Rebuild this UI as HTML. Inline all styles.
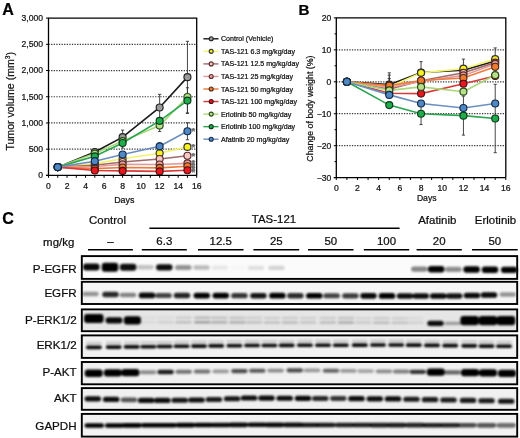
<!DOCTYPE html><html><head><meta charset="utf-8"><style>html,body{margin:0;padding:0;background:#fff;}svg{display:block;}text{font-family:"Liberation Sans", Arial, sans-serif;stroke:#000;stroke-width:0.22px;}</style></head><body>
<svg width="520" height="438" viewBox="0 0 520 438">
<defs><filter id="bl" x="-30%" y="-80%" width="160%" height="260%"><feGaussianBlur stdDeviation="0.8"/></filter><filter id="bl2" x="-30%" y="-80%" width="160%" height="260%"><feGaussianBlur stdDeviation="0.7"/></filter></defs>
<rect width="520" height="438" fill="#fff"/>
<line x1="48.5" y1="149.18" x2="196.7" y2="149.18" stroke="#3a3a3a" stroke-width="1.2" stroke-dasharray="1.3,1.3"/>
<line x1="48.5" y1="122.97" x2="196.7" y2="122.97" stroke="#3a3a3a" stroke-width="1.2" stroke-dasharray="1.3,1.3"/>
<line x1="48.5" y1="96.75" x2="196.7" y2="96.75" stroke="#3a3a3a" stroke-width="1.2" stroke-dasharray="1.3,1.3"/>
<line x1="48.5" y1="70.53" x2="196.7" y2="70.53" stroke="#3a3a3a" stroke-width="1.2" stroke-dasharray="1.3,1.3"/>
<line x1="48.5" y1="44.32" x2="196.7" y2="44.32" stroke="#3a3a3a" stroke-width="1.2" stroke-dasharray="1.3,1.3"/>
<polyline points="57.76,167.12 94.81,151.96 122.60,137.18 159.65,107.45 187.44,77.14" fill="none" stroke="#1a1a1a" stroke-width="1.6"/>
<polyline points="57.76,167.12 94.81,163.60 122.60,158.78 159.65,153.27 187.44,146.88" fill="none" stroke="#f4f36a" stroke-width="1.6"/>
<polyline points="57.76,167.12 94.81,165.18 122.60,161.98 159.65,158.99 187.44,155.79" fill="none" stroke="#a06a6a" stroke-width="1.6"/>
<polyline points="57.76,167.12 94.81,166.49 122.60,164.39 159.65,164.49 187.44,163.39" fill="none" stroke="#e39a9a" stroke-width="1.6"/>
<polyline points="57.76,167.12 94.81,168.58 122.60,167.48 159.65,167.90 187.44,166.28" fill="none" stroke="#ef7a3a" stroke-width="1.6"/>
<polyline points="57.76,167.12 94.81,170.47 122.60,170.89 159.65,171.42 187.44,170.21" fill="none" stroke="#d83a3a" stroke-width="1.6"/>
<polyline points="57.76,167.12 94.81,153.59 122.60,141.06 159.65,125.59 187.44,96.96" fill="none" stroke="#a8d878" stroke-width="1.6"/>
<polyline points="57.76,167.12 94.81,156.31 122.60,143.00 159.65,120.87 187.44,100.58" fill="none" stroke="#2aa44e" stroke-width="1.6"/>
<polyline points="57.76,167.12 94.81,161.19 122.60,154.48 159.65,146.30 187.44,131.25" fill="none" stroke="#6a8fbf" stroke-width="1.6"/>
<line x1="94.81" y1="149.29" x2="94.81" y2="154.64" stroke="#333" stroke-width="0.9"/>
<line x1="93.21" y1="149.29" x2="96.41" y2="149.29" stroke="#333" stroke-width="0.9"/>
<line x1="93.21" y1="154.64" x2="96.41" y2="154.64" stroke="#333" stroke-width="0.9"/>
<line x1="122.60" y1="130.15" x2="122.60" y2="144.20" stroke="#333" stroke-width="0.9"/>
<line x1="121.00" y1="130.15" x2="124.20" y2="130.15" stroke="#333" stroke-width="0.9"/>
<line x1="121.00" y1="144.20" x2="124.20" y2="144.20" stroke="#333" stroke-width="0.9"/>
<line x1="159.65" y1="94.34" x2="159.65" y2="120.55" stroke="#333" stroke-width="0.9"/>
<line x1="158.05" y1="94.34" x2="161.25" y2="94.34" stroke="#333" stroke-width="0.9"/>
<line x1="158.05" y1="120.55" x2="161.25" y2="120.55" stroke="#333" stroke-width="0.9"/>
<line x1="187.44" y1="41.33" x2="187.44" y2="112.95" stroke="#333" stroke-width="0.9"/>
<line x1="185.84" y1="41.33" x2="189.04" y2="41.33" stroke="#333" stroke-width="0.9"/>
<line x1="185.84" y1="112.95" x2="189.04" y2="112.95" stroke="#333" stroke-width="0.9"/>
<line x1="122.60" y1="137.91" x2="122.60" y2="148.08" stroke="#333" stroke-width="0.9"/>
<line x1="121.00" y1="137.91" x2="124.20" y2="137.91" stroke="#333" stroke-width="0.9"/>
<line x1="121.00" y1="148.08" x2="124.20" y2="148.08" stroke="#333" stroke-width="0.9"/>
<line x1="159.65" y1="119.61" x2="159.65" y2="131.57" stroke="#333" stroke-width="0.9"/>
<line x1="158.05" y1="119.61" x2="161.25" y2="119.61" stroke="#333" stroke-width="0.9"/>
<line x1="158.05" y1="131.57" x2="161.25" y2="131.57" stroke="#333" stroke-width="0.9"/>
<line x1="187.44" y1="87.78" x2="187.44" y2="113.37" stroke="#333" stroke-width="0.9"/>
<line x1="185.84" y1="87.78" x2="189.04" y2="87.78" stroke="#333" stroke-width="0.9"/>
<line x1="185.84" y1="113.37" x2="189.04" y2="113.37" stroke="#333" stroke-width="0.9"/>
<line x1="187.44" y1="122.76" x2="187.44" y2="139.75" stroke="#333" stroke-width="0.9"/>
<line x1="185.84" y1="122.76" x2="189.04" y2="122.76" stroke="#333" stroke-width="0.9"/>
<line x1="185.84" y1="139.75" x2="189.04" y2="139.75" stroke="#333" stroke-width="0.9"/>
<line x1="159.65" y1="142.79" x2="159.65" y2="149.81" stroke="#333" stroke-width="0.9"/>
<line x1="158.05" y1="142.79" x2="161.25" y2="142.79" stroke="#333" stroke-width="0.9"/>
<line x1="158.05" y1="149.81" x2="161.25" y2="149.81" stroke="#333" stroke-width="0.9"/>
<circle cx="57.76" cy="167.12" r="3.5" fill="#9a9a9a" stroke="#222" stroke-width="1.15"/>
<circle cx="94.81" cy="151.96" r="3.5" fill="#9a9a9a" stroke="#222" stroke-width="1.15"/>
<circle cx="122.60" cy="137.18" r="3.5" fill="#9a9a9a" stroke="#222" stroke-width="1.15"/>
<circle cx="159.65" cy="107.45" r="3.5" fill="#9a9a9a" stroke="#222" stroke-width="1.15"/>
<circle cx="187.44" cy="77.14" r="3.5" fill="#9a9a9a" stroke="#222" stroke-width="1.15"/>
<circle cx="57.76" cy="167.12" r="3.5" fill="#f6f21a" stroke="#333" stroke-width="1.15"/>
<circle cx="94.81" cy="163.60" r="3.5" fill="#f6f21a" stroke="#333" stroke-width="1.15"/>
<circle cx="122.60" cy="158.78" r="3.5" fill="#f6f21a" stroke="#333" stroke-width="1.15"/>
<circle cx="159.65" cy="153.27" r="3.5" fill="#f6f21a" stroke="#333" stroke-width="1.15"/>
<circle cx="187.44" cy="146.88" r="3.5" fill="#f6f21a" stroke="#333" stroke-width="1.15"/>
<circle cx="57.76" cy="167.12" r="3.5" fill="#f3c9c4" stroke="#5a2a2a" stroke-width="1.15"/>
<circle cx="94.81" cy="165.18" r="3.5" fill="#f3c9c4" stroke="#5a2a2a" stroke-width="1.15"/>
<circle cx="122.60" cy="161.98" r="3.5" fill="#f3c9c4" stroke="#5a2a2a" stroke-width="1.15"/>
<circle cx="159.65" cy="158.99" r="3.5" fill="#f3c9c4" stroke="#5a2a2a" stroke-width="1.15"/>
<circle cx="187.44" cy="155.79" r="3.5" fill="#f3c9c4" stroke="#5a2a2a" stroke-width="1.15"/>
<circle cx="57.76" cy="167.12" r="3.5" fill="#e7a0a0" stroke="#5a2a2a" stroke-width="1.15"/>
<circle cx="94.81" cy="166.49" r="3.5" fill="#e7a0a0" stroke="#5a2a2a" stroke-width="1.15"/>
<circle cx="122.60" cy="164.39" r="3.5" fill="#e7a0a0" stroke="#5a2a2a" stroke-width="1.15"/>
<circle cx="159.65" cy="164.49" r="3.5" fill="#e7a0a0" stroke="#5a2a2a" stroke-width="1.15"/>
<circle cx="187.44" cy="163.39" r="3.5" fill="#e7a0a0" stroke="#5a2a2a" stroke-width="1.15"/>
<circle cx="57.76" cy="167.12" r="3.5" fill="#f07a30" stroke="#4a2a1a" stroke-width="1.15"/>
<circle cx="94.81" cy="168.58" r="3.5" fill="#f07a30" stroke="#4a2a1a" stroke-width="1.15"/>
<circle cx="122.60" cy="167.48" r="3.5" fill="#f07a30" stroke="#4a2a1a" stroke-width="1.15"/>
<circle cx="159.65" cy="167.90" r="3.5" fill="#f07a30" stroke="#4a2a1a" stroke-width="1.15"/>
<circle cx="187.44" cy="166.28" r="3.5" fill="#f07a30" stroke="#4a2a1a" stroke-width="1.15"/>
<circle cx="57.76" cy="167.12" r="3.5" fill="#e8161e" stroke="#4a1010" stroke-width="1.15"/>
<circle cx="94.81" cy="170.47" r="3.5" fill="#e8161e" stroke="#4a1010" stroke-width="1.15"/>
<circle cx="122.60" cy="170.89" r="3.5" fill="#e8161e" stroke="#4a1010" stroke-width="1.15"/>
<circle cx="159.65" cy="171.42" r="3.5" fill="#e8161e" stroke="#4a1010" stroke-width="1.15"/>
<circle cx="187.44" cy="170.21" r="3.5" fill="#e8161e" stroke="#4a1010" stroke-width="1.15"/>
<circle cx="57.76" cy="167.12" r="3.5" fill="#b8e08a" stroke="#2a4a1a" stroke-width="1.15"/>
<circle cx="94.81" cy="153.59" r="3.5" fill="#b8e08a" stroke="#2a4a1a" stroke-width="1.15"/>
<circle cx="122.60" cy="141.06" r="3.5" fill="#b8e08a" stroke="#2a4a1a" stroke-width="1.15"/>
<circle cx="159.65" cy="125.59" r="3.5" fill="#b8e08a" stroke="#2a4a1a" stroke-width="1.15"/>
<circle cx="187.44" cy="96.96" r="3.5" fill="#b8e08a" stroke="#2a4a1a" stroke-width="1.15"/>
<circle cx="57.76" cy="167.12" r="3.5" fill="#1fad4c" stroke="#0d3a1a" stroke-width="1.15"/>
<circle cx="94.81" cy="156.31" r="3.5" fill="#1fad4c" stroke="#0d3a1a" stroke-width="1.15"/>
<circle cx="122.60" cy="143.00" r="3.5" fill="#1fad4c" stroke="#0d3a1a" stroke-width="1.15"/>
<circle cx="159.65" cy="120.87" r="3.5" fill="#1fad4c" stroke="#0d3a1a" stroke-width="1.15"/>
<circle cx="187.44" cy="100.58" r="3.5" fill="#1fad4c" stroke="#0d3a1a" stroke-width="1.15"/>
<circle cx="57.76" cy="167.12" r="3.5" fill="#5088c4" stroke="#122a4a" stroke-width="1.15"/>
<circle cx="94.81" cy="161.19" r="3.5" fill="#5088c4" stroke="#122a4a" stroke-width="1.15"/>
<circle cx="122.60" cy="154.48" r="3.5" fill="#5088c4" stroke="#122a4a" stroke-width="1.15"/>
<circle cx="159.65" cy="146.30" r="3.5" fill="#5088c4" stroke="#122a4a" stroke-width="1.15"/>
<circle cx="187.44" cy="131.25" r="3.5" fill="#5088c4" stroke="#122a4a" stroke-width="1.15"/>
<text x="193.4" y="133.90" font-size="9.5" font-weight="bold" fill="#8a8a8a" stroke="#8a8a8a" stroke-width="0.4" text-anchor="middle">*</text>
<text x="193.4" y="150.00" font-size="9.5" font-weight="bold" fill="#8a8a8a" stroke="#8a8a8a" stroke-width="0.4" text-anchor="middle">*</text>
<text x="193.4" y="159.10" font-size="9.5" font-weight="bold" fill="#8a8a8a" stroke="#8a8a8a" stroke-width="0.4" text-anchor="middle">*</text>
<text x="193.4" y="165.60" font-size="9.5" font-weight="bold" fill="#8a8a8a" stroke="#8a8a8a" stroke-width="0.4" text-anchor="middle">*</text>
<text x="193.4" y="169.00" font-size="9.5" font-weight="bold" fill="#8a8a8a" stroke="#8a8a8a" stroke-width="0.4" text-anchor="middle">*</text>
<text x="193.4" y="172.00" font-size="9.5" font-weight="bold" fill="#8a8a8a" stroke="#8a8a8a" stroke-width="0.4" text-anchor="middle">*</text>
<text x="193.4" y="174.90" font-size="9.5" font-weight="bold" fill="#8a8a8a" stroke="#8a8a8a" stroke-width="0.4" text-anchor="middle">*</text>
<path d="M48.5,175.4 V18.1 H196.7 V175.4" fill="none" stroke="#000" stroke-width="1.3"/>
<line x1="46.0" y1="175.4" x2="196.7" y2="175.4" stroke="#000" stroke-width="1.3"/>
<line x1="46.0" y1="175.40" x2="48.5" y2="175.40" stroke="#000" stroke-width="1"/>
<text x="43.0" y="178.30" font-size="8.6" text-anchor="end" fill="#1a1a1a">0</text>
<line x1="46.0" y1="149.18" x2="48.5" y2="149.18" stroke="#000" stroke-width="1"/>
<text x="43.0" y="152.08" font-size="8.6" text-anchor="end" fill="#1a1a1a">500</text>
<line x1="46.0" y1="122.97" x2="48.5" y2="122.97" stroke="#000" stroke-width="1"/>
<text x="43.0" y="125.87" font-size="8.6" text-anchor="end" fill="#1a1a1a">1,000</text>
<line x1="46.0" y1="96.75" x2="48.5" y2="96.75" stroke="#000" stroke-width="1"/>
<text x="43.0" y="99.65" font-size="8.6" text-anchor="end" fill="#1a1a1a">1,500</text>
<line x1="46.0" y1="70.53" x2="48.5" y2="70.53" stroke="#000" stroke-width="1"/>
<text x="43.0" y="73.43" font-size="8.6" text-anchor="end" fill="#1a1a1a">2,000</text>
<line x1="46.0" y1="44.32" x2="48.5" y2="44.32" stroke="#000" stroke-width="1"/>
<text x="43.0" y="47.22" font-size="8.6" text-anchor="end" fill="#1a1a1a">2,500</text>
<line x1="46.0" y1="18.10" x2="48.5" y2="18.10" stroke="#000" stroke-width="1"/>
<text x="43.0" y="21.00" font-size="8.6" text-anchor="end" fill="#1a1a1a">3,000</text>
<line x1="48.50" y1="175.4" x2="48.50" y2="177.8" stroke="#000" stroke-width="1"/>
<text x="48.50" y="188.8" font-size="8.6" text-anchor="middle" fill="#1a1a1a">0</text>
<line x1="57.76" y1="175.4" x2="57.76" y2="177.8" stroke="#000" stroke-width="1"/>
<line x1="67.03" y1="175.4" x2="67.03" y2="177.8" stroke="#000" stroke-width="1"/>
<text x="67.03" y="188.8" font-size="8.6" text-anchor="middle" fill="#1a1a1a">2</text>
<line x1="76.29" y1="175.4" x2="76.29" y2="177.8" stroke="#000" stroke-width="1"/>
<line x1="85.55" y1="175.4" x2="85.55" y2="177.8" stroke="#000" stroke-width="1"/>
<text x="85.55" y="188.8" font-size="8.6" text-anchor="middle" fill="#1a1a1a">4</text>
<line x1="94.81" y1="175.4" x2="94.81" y2="177.8" stroke="#000" stroke-width="1"/>
<line x1="104.07" y1="175.4" x2="104.07" y2="177.8" stroke="#000" stroke-width="1"/>
<text x="104.07" y="188.8" font-size="8.6" text-anchor="middle" fill="#1a1a1a">6</text>
<line x1="113.34" y1="175.4" x2="113.34" y2="177.8" stroke="#000" stroke-width="1"/>
<line x1="122.60" y1="175.4" x2="122.60" y2="177.8" stroke="#000" stroke-width="1"/>
<text x="122.60" y="188.8" font-size="8.6" text-anchor="middle" fill="#1a1a1a">8</text>
<line x1="131.86" y1="175.4" x2="131.86" y2="177.8" stroke="#000" stroke-width="1"/>
<line x1="141.12" y1="175.4" x2="141.12" y2="177.8" stroke="#000" stroke-width="1"/>
<text x="141.12" y="188.8" font-size="8.6" text-anchor="middle" fill="#1a1a1a">10</text>
<line x1="150.39" y1="175.4" x2="150.39" y2="177.8" stroke="#000" stroke-width="1"/>
<line x1="159.65" y1="175.4" x2="159.65" y2="177.8" stroke="#000" stroke-width="1"/>
<text x="159.65" y="188.8" font-size="8.6" text-anchor="middle" fill="#1a1a1a">12</text>
<line x1="168.91" y1="175.4" x2="168.91" y2="177.8" stroke="#000" stroke-width="1"/>
<line x1="178.17" y1="175.4" x2="178.17" y2="177.8" stroke="#000" stroke-width="1"/>
<text x="178.17" y="188.8" font-size="8.6" text-anchor="middle" fill="#1a1a1a">14</text>
<line x1="187.44" y1="175.4" x2="187.44" y2="177.8" stroke="#000" stroke-width="1"/>
<line x1="196.70" y1="175.4" x2="196.70" y2="177.8" stroke="#000" stroke-width="1"/>
<text x="196.70" y="188.8" font-size="8.6" text-anchor="middle" fill="#1a1a1a">16</text>
<text x="124.3" y="202.9" font-size="8.9" text-anchor="middle" fill="#1a1a1a">Days</text>
<text transform="translate(13.7,101.3) rotate(-90)" font-size="10.6" text-anchor="middle" fill="#222">Tumor volume (mm<tspan font-size="6.5" dy="-3.5">3</tspan><tspan dy="3.5">)</tspan></text>
<text x="2.2" y="14.8" font-size="16" font-weight="bold" fill="#000" stroke="#000" stroke-width="0.5">A</text>
<line x1="203.4" y1="38.80" x2="218.5" y2="38.80" stroke="#1a1a1a" stroke-width="1.4"/>
<circle cx="211.2" cy="38.80" r="2.0" fill="#9a9a9a" stroke="#222" stroke-width="1.1"/>
<text x="221" y="41.30" font-size="7.1" fill="#222">Control (Vehicle)</text>
<line x1="203.4" y1="51.35" x2="218.5" y2="51.35" stroke="#f4f36a" stroke-width="1.4"/>
<circle cx="211.2" cy="51.35" r="2.0" fill="#f6f21a" stroke="#333" stroke-width="1.1"/>
<text x="221" y="53.85" font-size="7.1" fill="#222">TAS-121 6.3 mg/kg/day</text>
<line x1="203.4" y1="63.90" x2="218.5" y2="63.90" stroke="#a06a6a" stroke-width="1.4"/>
<circle cx="211.2" cy="63.90" r="2.0" fill="#f3c9c4" stroke="#5a2a2a" stroke-width="1.1"/>
<text x="221" y="66.40" font-size="7.1" fill="#222">TAS-121 12.5 mg/kg/day</text>
<line x1="203.4" y1="76.45" x2="218.5" y2="76.45" stroke="#e39a9a" stroke-width="1.4"/>
<circle cx="211.2" cy="76.45" r="2.0" fill="#e7a0a0" stroke="#5a2a2a" stroke-width="1.1"/>
<text x="221" y="78.95" font-size="7.1" fill="#222">TAS-121 25 mg/kg/day</text>
<line x1="203.4" y1="89.00" x2="218.5" y2="89.00" stroke="#ef7a3a" stroke-width="1.4"/>
<circle cx="211.2" cy="89.00" r="2.0" fill="#f07a30" stroke="#4a2a1a" stroke-width="1.1"/>
<text x="221" y="91.50" font-size="7.1" fill="#222">TAS-121 50 mg/kg/day</text>
<line x1="203.4" y1="101.55" x2="218.5" y2="101.55" stroke="#d83a3a" stroke-width="1.4"/>
<circle cx="211.2" cy="101.55" r="2.0" fill="#e8161e" stroke="#4a1010" stroke-width="1.1"/>
<text x="221" y="104.05" font-size="7.1" fill="#222">TAS-121 100 mg/kg/day</text>
<line x1="203.4" y1="114.10" x2="218.5" y2="114.10" stroke="#a8d878" stroke-width="1.4"/>
<circle cx="211.2" cy="114.10" r="2.0" fill="#b8e08a" stroke="#2a4a1a" stroke-width="1.1"/>
<text x="221" y="116.60" font-size="7.1" fill="#222">Erlotinib 50 mg/kg/day</text>
<line x1="203.4" y1="126.65" x2="218.5" y2="126.65" stroke="#2aa44e" stroke-width="1.4"/>
<circle cx="211.2" cy="126.65" r="2.0" fill="#1fad4c" stroke="#0d3a1a" stroke-width="1.1"/>
<text x="221" y="129.15" font-size="7.1" fill="#222">Erlotinib 100 mg/kg/day</text>
<line x1="203.4" y1="139.20" x2="218.5" y2="139.20" stroke="#6a8fbf" stroke-width="1.4"/>
<circle cx="211.2" cy="139.20" r="2.0" fill="#5088c4" stroke="#122a4a" stroke-width="1.1"/>
<text x="221" y="141.70" font-size="7.1" fill="#222">Afatinib 20 mg/kg/day</text>
<line x1="336.3" y1="49.84" x2="505.8" y2="49.84" stroke="#3a3a3a" stroke-width="1.2" stroke-dasharray="1.3,1.3"/>
<line x1="336.3" y1="81.78" x2="505.8" y2="81.78" stroke="#3a3a3a" stroke-width="1.2" stroke-dasharray="1.3,1.3"/>
<line x1="336.3" y1="113.72" x2="505.8" y2="113.72" stroke="#3a3a3a" stroke-width="1.2" stroke-dasharray="1.3,1.3"/>
<line x1="336.3" y1="145.66" x2="505.8" y2="145.66" stroke="#3a3a3a" stroke-width="1.2" stroke-dasharray="1.3,1.3"/>
<polyline points="346.89,81.78 389.27,84.65 421.05,72.52 463.43,70.28 495.21,61.02" fill="none" stroke="#1a1a1a" stroke-width="1.6"/>
<polyline points="346.89,81.78 389.27,86.89 421.05,72.84 463.43,68.68 495.21,59.10" fill="none" stroke="#f4f36a" stroke-width="1.6"/>
<polyline points="346.89,81.78 389.27,89.13 421.05,80.82 463.43,72.84 495.21,62.62" fill="none" stroke="#a06a6a" stroke-width="1.6"/>
<polyline points="346.89,81.78 389.27,87.53 421.05,81.46 463.43,75.39 495.21,63.89" fill="none" stroke="#e39a9a" stroke-width="1.6"/>
<polyline points="346.89,81.78 389.27,85.61 421.05,80.50 463.43,77.95 495.21,66.77" fill="none" stroke="#ef7a3a" stroke-width="1.6"/>
<polyline points="346.89,81.78 389.27,93.28 421.05,93.60 463.43,83.70 495.21,76.03" fill="none" stroke="#d83a3a" stroke-width="1.6"/>
<polyline points="346.89,81.78 389.27,90.40 421.05,86.89 463.43,91.68 495.21,75.07" fill="none" stroke="#a8d878" stroke-width="1.6"/>
<polyline points="346.89,81.78 389.27,105.10 421.05,113.72 463.43,115.64 495.21,118.51" fill="none" stroke="#2aa44e" stroke-width="1.6"/>
<polyline points="346.89,81.78 389.27,94.88 421.05,103.50 463.43,107.97 495.21,103.50" fill="none" stroke="#6a8fbf" stroke-width="1.6"/>
<line x1="389.27" y1="72.84" x2="389.27" y2="94.24" stroke="#333" stroke-width="0.9"/>
<line x1="387.67" y1="72.84" x2="390.87" y2="72.84" stroke="#333" stroke-width="0.9"/>
<line x1="387.67" y1="94.24" x2="390.87" y2="94.24" stroke="#333" stroke-width="0.9"/>
<line x1="389.27" y1="75.07" x2="389.27" y2="93.28" stroke="#333" stroke-width="0.9"/>
<line x1="387.67" y1="75.07" x2="390.87" y2="75.07" stroke="#333" stroke-width="0.9"/>
<line x1="387.67" y1="93.28" x2="390.87" y2="93.28" stroke="#333" stroke-width="0.9"/>
<line x1="389.27" y1="78.59" x2="389.27" y2="92.00" stroke="#333" stroke-width="0.9"/>
<line x1="387.67" y1="78.59" x2="390.87" y2="78.59" stroke="#333" stroke-width="0.9"/>
<line x1="387.67" y1="92.00" x2="390.87" y2="92.00" stroke="#333" stroke-width="0.9"/>
<line x1="421.05" y1="61.66" x2="421.05" y2="84.02" stroke="#333" stroke-width="0.9"/>
<line x1="419.45" y1="61.66" x2="422.65" y2="61.66" stroke="#333" stroke-width="0.9"/>
<line x1="419.45" y1="84.02" x2="422.65" y2="84.02" stroke="#333" stroke-width="0.9"/>
<line x1="421.05" y1="102.86" x2="421.05" y2="124.58" stroke="#333" stroke-width="0.9"/>
<line x1="419.45" y1="102.86" x2="422.65" y2="102.86" stroke="#333" stroke-width="0.9"/>
<line x1="419.45" y1="124.58" x2="422.65" y2="124.58" stroke="#333" stroke-width="0.9"/>
<line x1="463.43" y1="59.10" x2="463.43" y2="78.27" stroke="#333" stroke-width="0.9"/>
<line x1="461.82" y1="59.10" x2="465.03" y2="59.10" stroke="#333" stroke-width="0.9"/>
<line x1="461.82" y1="78.27" x2="465.03" y2="78.27" stroke="#333" stroke-width="0.9"/>
<line x1="463.43" y1="96.15" x2="463.43" y2="135.12" stroke="#333" stroke-width="0.9"/>
<line x1="461.82" y1="96.15" x2="465.03" y2="96.15" stroke="#333" stroke-width="0.9"/>
<line x1="461.82" y1="135.12" x2="465.03" y2="135.12" stroke="#333" stroke-width="0.9"/>
<line x1="495.21" y1="84.34" x2="495.21" y2="152.69" stroke="#333" stroke-width="0.9"/>
<line x1="493.61" y1="84.34" x2="496.81" y2="84.34" stroke="#333" stroke-width="0.9"/>
<line x1="493.61" y1="152.69" x2="496.81" y2="152.69" stroke="#333" stroke-width="0.9"/>
<line x1="495.21" y1="47.92" x2="495.21" y2="70.28" stroke="#333" stroke-width="0.9"/>
<line x1="493.61" y1="47.92" x2="496.81" y2="47.92" stroke="#333" stroke-width="0.9"/>
<line x1="493.61" y1="70.28" x2="496.81" y2="70.28" stroke="#333" stroke-width="0.9"/>
<circle cx="346.89" cy="81.78" r="3.5" fill="#9a9a9a" stroke="#222" stroke-width="1.15"/>
<circle cx="389.27" cy="84.65" r="3.5" fill="#9a9a9a" stroke="#222" stroke-width="1.15"/>
<circle cx="421.05" cy="72.52" r="3.5" fill="#9a9a9a" stroke="#222" stroke-width="1.15"/>
<circle cx="463.43" cy="70.28" r="3.5" fill="#9a9a9a" stroke="#222" stroke-width="1.15"/>
<circle cx="495.21" cy="61.02" r="3.5" fill="#9a9a9a" stroke="#222" stroke-width="1.15"/>
<circle cx="346.89" cy="81.78" r="3.5" fill="#f6f21a" stroke="#333" stroke-width="1.15"/>
<circle cx="389.27" cy="86.89" r="3.5" fill="#f6f21a" stroke="#333" stroke-width="1.15"/>
<circle cx="421.05" cy="72.84" r="3.5" fill="#f6f21a" stroke="#333" stroke-width="1.15"/>
<circle cx="463.43" cy="68.68" r="3.5" fill="#f6f21a" stroke="#333" stroke-width="1.15"/>
<circle cx="495.21" cy="59.10" r="3.5" fill="#f6f21a" stroke="#333" stroke-width="1.15"/>
<circle cx="346.89" cy="81.78" r="3.5" fill="#f3c9c4" stroke="#5a2a2a" stroke-width="1.15"/>
<circle cx="389.27" cy="89.13" r="3.5" fill="#f3c9c4" stroke="#5a2a2a" stroke-width="1.15"/>
<circle cx="421.05" cy="80.82" r="3.5" fill="#f3c9c4" stroke="#5a2a2a" stroke-width="1.15"/>
<circle cx="463.43" cy="72.84" r="3.5" fill="#f3c9c4" stroke="#5a2a2a" stroke-width="1.15"/>
<circle cx="495.21" cy="62.62" r="3.5" fill="#f3c9c4" stroke="#5a2a2a" stroke-width="1.15"/>
<circle cx="346.89" cy="81.78" r="3.5" fill="#e7a0a0" stroke="#5a2a2a" stroke-width="1.15"/>
<circle cx="389.27" cy="87.53" r="3.5" fill="#e7a0a0" stroke="#5a2a2a" stroke-width="1.15"/>
<circle cx="421.05" cy="81.46" r="3.5" fill="#e7a0a0" stroke="#5a2a2a" stroke-width="1.15"/>
<circle cx="463.43" cy="75.39" r="3.5" fill="#e7a0a0" stroke="#5a2a2a" stroke-width="1.15"/>
<circle cx="495.21" cy="63.89" r="3.5" fill="#e7a0a0" stroke="#5a2a2a" stroke-width="1.15"/>
<circle cx="346.89" cy="81.78" r="3.5" fill="#f07a30" stroke="#4a2a1a" stroke-width="1.15"/>
<circle cx="389.27" cy="85.61" r="3.5" fill="#f07a30" stroke="#4a2a1a" stroke-width="1.15"/>
<circle cx="421.05" cy="80.50" r="3.5" fill="#f07a30" stroke="#4a2a1a" stroke-width="1.15"/>
<circle cx="463.43" cy="77.95" r="3.5" fill="#f07a30" stroke="#4a2a1a" stroke-width="1.15"/>
<circle cx="495.21" cy="66.77" r="3.5" fill="#f07a30" stroke="#4a2a1a" stroke-width="1.15"/>
<circle cx="346.89" cy="81.78" r="3.5" fill="#e8161e" stroke="#4a1010" stroke-width="1.15"/>
<circle cx="389.27" cy="93.28" r="3.5" fill="#e8161e" stroke="#4a1010" stroke-width="1.15"/>
<circle cx="421.05" cy="93.60" r="3.5" fill="#e8161e" stroke="#4a1010" stroke-width="1.15"/>
<circle cx="463.43" cy="83.70" r="3.5" fill="#e8161e" stroke="#4a1010" stroke-width="1.15"/>
<circle cx="495.21" cy="76.03" r="3.5" fill="#e8161e" stroke="#4a1010" stroke-width="1.15"/>
<circle cx="346.89" cy="81.78" r="3.5" fill="#b8e08a" stroke="#2a4a1a" stroke-width="1.15"/>
<circle cx="389.27" cy="90.40" r="3.5" fill="#b8e08a" stroke="#2a4a1a" stroke-width="1.15"/>
<circle cx="421.05" cy="86.89" r="3.5" fill="#b8e08a" stroke="#2a4a1a" stroke-width="1.15"/>
<circle cx="463.43" cy="91.68" r="3.5" fill="#b8e08a" stroke="#2a4a1a" stroke-width="1.15"/>
<circle cx="495.21" cy="75.07" r="3.5" fill="#b8e08a" stroke="#2a4a1a" stroke-width="1.15"/>
<circle cx="346.89" cy="81.78" r="3.5" fill="#1fad4c" stroke="#0d3a1a" stroke-width="1.15"/>
<circle cx="389.27" cy="105.10" r="3.5" fill="#1fad4c" stroke="#0d3a1a" stroke-width="1.15"/>
<circle cx="421.05" cy="113.72" r="3.5" fill="#1fad4c" stroke="#0d3a1a" stroke-width="1.15"/>
<circle cx="463.43" cy="115.64" r="3.5" fill="#1fad4c" stroke="#0d3a1a" stroke-width="1.15"/>
<circle cx="495.21" cy="118.51" r="3.5" fill="#1fad4c" stroke="#0d3a1a" stroke-width="1.15"/>
<circle cx="346.89" cy="81.78" r="3.5" fill="#5088c4" stroke="#122a4a" stroke-width="1.15"/>
<circle cx="389.27" cy="94.88" r="3.5" fill="#5088c4" stroke="#122a4a" stroke-width="1.15"/>
<circle cx="421.05" cy="103.50" r="3.5" fill="#5088c4" stroke="#122a4a" stroke-width="1.15"/>
<circle cx="463.43" cy="107.97" r="3.5" fill="#5088c4" stroke="#122a4a" stroke-width="1.15"/>
<circle cx="495.21" cy="103.50" r="3.5" fill="#5088c4" stroke="#122a4a" stroke-width="1.15"/>
<path d="M336.3,177.6 V17.9 H505.8 V177.6" fill="none" stroke="#000" stroke-width="1.3"/>
<line x1="333.8" y1="177.6" x2="505.8" y2="177.6" stroke="#000" stroke-width="1.3"/>
<line x1="333.8" y1="177.60" x2="336.3" y2="177.60" stroke="#000" stroke-width="1"/>
<text x="331.3" y="180.50" font-size="8.6" text-anchor="end" fill="#1a1a1a">−30</text>
<line x1="334.5" y1="161.63" x2="336.3" y2="161.63" stroke="#000" stroke-width="1"/>
<line x1="333.8" y1="145.66" x2="336.3" y2="145.66" stroke="#000" stroke-width="1"/>
<text x="331.3" y="148.56" font-size="8.6" text-anchor="end" fill="#1a1a1a">−20</text>
<line x1="334.5" y1="129.69" x2="336.3" y2="129.69" stroke="#000" stroke-width="1"/>
<line x1="333.8" y1="113.72" x2="336.3" y2="113.72" stroke="#000" stroke-width="1"/>
<text x="331.3" y="116.62" font-size="8.6" text-anchor="end" fill="#1a1a1a">−10</text>
<line x1="334.5" y1="97.75" x2="336.3" y2="97.75" stroke="#000" stroke-width="1"/>
<line x1="333.8" y1="81.78" x2="336.3" y2="81.78" stroke="#000" stroke-width="1"/>
<text x="331.3" y="84.68" font-size="8.6" text-anchor="end" fill="#1a1a1a">0</text>
<line x1="334.5" y1="65.81" x2="336.3" y2="65.81" stroke="#000" stroke-width="1"/>
<line x1="333.8" y1="49.84" x2="336.3" y2="49.84" stroke="#000" stroke-width="1"/>
<text x="331.3" y="52.74" font-size="8.6" text-anchor="end" fill="#1a1a1a">10</text>
<line x1="334.5" y1="33.87" x2="336.3" y2="33.87" stroke="#000" stroke-width="1"/>
<line x1="333.8" y1="17.90" x2="336.3" y2="17.90" stroke="#000" stroke-width="1"/>
<text x="331.3" y="20.80" font-size="8.6" text-anchor="end" fill="#1a1a1a">20</text>
<line x1="336.30" y1="177.6" x2="336.30" y2="180.0" stroke="#000" stroke-width="1"/>
<text x="336.30" y="190.6" font-size="8.6" text-anchor="middle" fill="#1a1a1a">0</text>
<line x1="346.89" y1="177.6" x2="346.89" y2="180.0" stroke="#000" stroke-width="1"/>
<line x1="357.49" y1="177.6" x2="357.49" y2="180.0" stroke="#000" stroke-width="1"/>
<text x="357.49" y="190.6" font-size="8.6" text-anchor="middle" fill="#1a1a1a">2</text>
<line x1="368.08" y1="177.6" x2="368.08" y2="180.0" stroke="#000" stroke-width="1"/>
<line x1="378.68" y1="177.6" x2="378.68" y2="180.0" stroke="#000" stroke-width="1"/>
<text x="378.68" y="190.6" font-size="8.6" text-anchor="middle" fill="#1a1a1a">4</text>
<line x1="389.27" y1="177.6" x2="389.27" y2="180.0" stroke="#000" stroke-width="1"/>
<line x1="399.86" y1="177.6" x2="399.86" y2="180.0" stroke="#000" stroke-width="1"/>
<text x="399.86" y="190.6" font-size="8.6" text-anchor="middle" fill="#1a1a1a">6</text>
<line x1="410.46" y1="177.6" x2="410.46" y2="180.0" stroke="#000" stroke-width="1"/>
<line x1="421.05" y1="177.6" x2="421.05" y2="180.0" stroke="#000" stroke-width="1"/>
<text x="421.05" y="190.6" font-size="8.6" text-anchor="middle" fill="#1a1a1a">8</text>
<line x1="431.64" y1="177.6" x2="431.64" y2="180.0" stroke="#000" stroke-width="1"/>
<line x1="442.24" y1="177.6" x2="442.24" y2="180.0" stroke="#000" stroke-width="1"/>
<text x="442.24" y="190.6" font-size="8.6" text-anchor="middle" fill="#1a1a1a">10</text>
<line x1="452.83" y1="177.6" x2="452.83" y2="180.0" stroke="#000" stroke-width="1"/>
<line x1="463.43" y1="177.6" x2="463.43" y2="180.0" stroke="#000" stroke-width="1"/>
<text x="463.43" y="190.6" font-size="8.6" text-anchor="middle" fill="#1a1a1a">12</text>
<line x1="474.02" y1="177.6" x2="474.02" y2="180.0" stroke="#000" stroke-width="1"/>
<line x1="484.61" y1="177.6" x2="484.61" y2="180.0" stroke="#000" stroke-width="1"/>
<text x="484.61" y="190.6" font-size="8.6" text-anchor="middle" fill="#1a1a1a">14</text>
<line x1="495.21" y1="177.6" x2="495.21" y2="180.0" stroke="#000" stroke-width="1"/>
<line x1="505.80" y1="177.6" x2="505.80" y2="180.0" stroke="#000" stroke-width="1"/>
<text x="505.80" y="190.6" font-size="8.6" text-anchor="middle" fill="#1a1a1a">16</text>
<text x="426.7" y="201.4" font-size="8.6" text-anchor="middle" fill="#1a1a1a">Days</text>
<text transform="translate(312.8,108.6) rotate(-90)" font-size="8.8" text-anchor="middle" fill="#222">Change of body weight (%)</text>
<text x="298.5" y="14.7" font-size="15.2" font-weight="bold" fill="#000" stroke="#000" stroke-width="0.5">B</text>
<text x="2.2" y="223.8" font-size="16.2" font-weight="bold" fill="#000" stroke="#000" stroke-width="0.5">C</text>
<text x="107.5" y="223.6" font-size="11.45" text-anchor="middle" fill="#111">Control</text>
<text x="274" y="222.9" font-size="11.45" text-anchor="middle" fill="#111">TAS-121</text>
<text x="437.3" y="223.9" font-size="11.45" text-anchor="middle" fill="#111">Afatinib</text>
<text x="495.5" y="223.9" font-size="11.45" text-anchor="middle" fill="#111">Erlotinib</text>
<line x1="149.4" y1="228.2" x2="399.6" y2="228.2" stroke="#000" stroke-width="1.5"/>
<text x="58.7" y="245.6" font-size="11.45" text-anchor="middle" fill="#111">mg/kg</text>
<line x1="88" y1="249.7" x2="132.9" y2="249.7" stroke="#000" stroke-width="1.6"/>
<text x="110.45" y="245.4" font-size="11.45" text-anchor="middle" fill="#111">–</text>
<line x1="141.8" y1="249.7" x2="186.8" y2="249.7" stroke="#000" stroke-width="1.6"/>
<text x="164.30" y="245.4" font-size="11.45" text-anchor="middle" fill="#111">6.3</text>
<line x1="198" y1="249.7" x2="243.5" y2="249.7" stroke="#000" stroke-width="1.6"/>
<text x="220.75" y="245.4" font-size="11.45" text-anchor="middle" fill="#111">12.5</text>
<line x1="253.4" y1="249.7" x2="299.2" y2="249.7" stroke="#000" stroke-width="1.6"/>
<text x="276.30" y="245.4" font-size="11.45" text-anchor="middle" fill="#111">25</text>
<line x1="308" y1="249.7" x2="353.5" y2="249.7" stroke="#000" stroke-width="1.6"/>
<text x="330.75" y="245.4" font-size="11.45" text-anchor="middle" fill="#111">50</text>
<line x1="363.8" y1="249.7" x2="409.2" y2="249.7" stroke="#000" stroke-width="1.6"/>
<text x="386.50" y="245.4" font-size="11.45" text-anchor="middle" fill="#111">100</text>
<line x1="416.6" y1="249.7" x2="461.8" y2="249.7" stroke="#000" stroke-width="1.6"/>
<text x="439.20" y="245.4" font-size="11.45" text-anchor="middle" fill="#111">20</text>
<line x1="472" y1="249.7" x2="517.7" y2="249.7" stroke="#000" stroke-width="1.6"/>
<text x="494.85" y="245.4" font-size="11.45" text-anchor="middle" fill="#111">50</text>
<text x="76.6" y="272.90" font-size="11.6" text-anchor="end" fill="#111">P-EGFR</text>
<rect x="81.8" y="256.10" width="435.4" height="22.80" fill="#fbfbfb" stroke="#000" stroke-width="1.9"/>
<g filter="url(#bl)">
<rect x="83.05" y="263.55" width="16.50" height="7.00" rx="3.00" fill="#000" fill-opacity="0.97"/>
<rect x="101.75" y="262.64" width="16.50" height="9.00" rx="3.00" fill="#000" fill-opacity="1.00"/>
<rect x="119.85" y="263.72" width="16.50" height="7.00" rx="3.00" fill="#000" fill-opacity="0.95"/>
<rect x="137.25" y="265.02" width="16.50" height="4.55" rx="2.27" fill="#000" fill-opacity="0.23"/>
<rect x="156.05" y="264.26" width="16.50" height="6.25" rx="3.00" fill="#000" fill-opacity="0.95"/>
<rect x="175.05" y="264.97" width="16.50" height="5.00" rx="2.50" fill="#000" fill-opacity="0.42"/>
<rect x="193.25" y="265.24" width="16.50" height="4.62" rx="2.31" fill="#000" fill-opacity="0.26"/>
<rect x="211.55" y="265.54" width="16.50" height="4.20" rx="2.10" fill="#000" fill-opacity="0.08"/>
<rect x="229.75" y="265.69" width="16.50" height="4.05" rx="2.02" fill="#000" fill-opacity="0.02"/>
<rect x="247.75" y="265.68" width="16.50" height="4.25" rx="2.12" fill="#000" fill-opacity="0.11"/>
<rect x="268.15" y="265.71" width="16.50" height="4.38" rx="2.19" fill="#000" fill-opacity="0.16"/>
<rect x="411.05" y="266.52" width="16.50" height="5.12" rx="2.56" fill="#000" fill-opacity="0.47"/>
<rect x="427.95" y="265.99" width="16.50" height="6.50" rx="3.00" fill="#000" fill-opacity="1.00"/>
<rect x="445.15" y="266.87" width="16.50" height="5.05" rx="2.52" fill="#000" fill-opacity="0.44"/>
<rect x="463.35" y="266.37" width="16.50" height="6.38" rx="3.00" fill="#000" fill-opacity="1.00"/>
<rect x="481.75" y="266.54" width="16.50" height="6.38" rx="3.00" fill="#000" fill-opacity="1.00"/>
<rect x="500.95" y="266.71" width="16.50" height="6.38" rx="3.00" fill="#000" fill-opacity="1.00"/>
</g>
<text x="76.6" y="296.50" font-size="11.6" text-anchor="end" fill="#111">EGFR</text>
<rect x="81.8" y="281.80" width="435.4" height="22.20" fill="#f6f6f6" stroke="#000" stroke-width="1.9"/>
<g filter="url(#bl)">
<rect x="82.25" y="291.87" width="16.50" height="4.37" rx="2.19" fill="#000" fill-opacity="0.40"/>
<rect x="102.25" y="291.87" width="16.50" height="5.34" rx="2.67" fill="#000" fill-opacity="0.84"/>
<rect x="119.75" y="292.70" width="16.50" height="4.54" rx="2.27" fill="#000" fill-opacity="0.47"/>
<rect x="138.75" y="292.62" width="16.50" height="5.62" rx="2.81" fill="#000" fill-opacity="0.97"/>
<rect x="155.25" y="292.97" width="16.50" height="5.11" rx="2.55" fill="#000" fill-opacity="0.73"/>
<rect x="173.75" y="292.86" width="16.50" height="5.39" rx="2.69" fill="#000" fill-opacity="0.86"/>
<rect x="193.55" y="292.69" width="16.50" height="5.80" rx="2.90" fill="#000" fill-opacity="1.00"/>
<rect x="212.55" y="292.78" width="16.50" height="5.68" rx="2.84" fill="#000" fill-opacity="1.00"/>
<rect x="231.15" y="293.04" width="16.50" height="5.22" rx="2.61" fill="#000" fill-opacity="0.79"/>
<rect x="250.15" y="292.92" width="16.50" height="5.52" rx="2.76" fill="#000" fill-opacity="0.92"/>
<rect x="269.15" y="292.81" width="16.50" height="5.80" rx="2.90" fill="#000" fill-opacity="1.00"/>
<rect x="287.15" y="293.10" width="16.50" height="5.29" rx="2.65" fill="#000" fill-opacity="0.82"/>
<rect x="306.05" y="292.93" width="16.50" height="5.68" rx="2.84" fill="#000" fill-opacity="1.00"/>
<rect x="323.45" y="293.25" width="16.50" height="5.11" rx="2.55" fill="#000" fill-opacity="0.73"/>
<rect x="342.15" y="293.26" width="16.50" height="5.16" rx="2.58" fill="#000" fill-opacity="0.76"/>
<rect x="360.25" y="293.06" width="16.50" height="5.62" rx="2.81" fill="#000" fill-opacity="0.97"/>
<rect x="378.75" y="293.03" width="16.50" height="5.73" rx="2.87" fill="#000" fill-opacity="1.00"/>
<rect x="396.75" y="293.14" width="16.50" height="5.57" rx="2.79" fill="#000" fill-opacity="0.95"/>
<rect x="412.55" y="293.17" width="16.50" height="5.57" rx="2.79" fill="#000" fill-opacity="0.95"/>
<rect x="429.95" y="293.17" width="16.50" height="5.62" rx="2.81" fill="#000" fill-opacity="0.97"/>
<rect x="445.95" y="293.13" width="16.50" height="5.52" rx="2.76" fill="#000" fill-opacity="0.92"/>
<rect x="463.75" y="292.63" width="16.50" height="5.62" rx="2.81" fill="#000" fill-opacity="0.97"/>
<rect x="480.75" y="292.19" width="16.50" height="5.62" rx="2.81" fill="#000" fill-opacity="0.97"/>
<rect x="499.55" y="292.33" width="16.50" height="4.37" rx="2.19" fill="#000" fill-opacity="0.40"/>
</g>
<text x="76.6" y="323.50" font-size="11.6" text-anchor="end" fill="#111">P-ERK1/2</text>
<rect x="81.8" y="309.40" width="435.4" height="21.80" fill="#e6e6e6" stroke="#000" stroke-width="1.9"/>
<g filter="url(#bl)">
<rect x="84.05" y="314.03" width="19.50" height="9.00" rx="3.00" fill="#000" fill-opacity="1.00"/>
<rect x="105.50" y="317.13" width="17.00" height="6.30" rx="3.00" fill="#000" fill-opacity="0.97"/>
<rect x="123.90" y="316.22" width="17.00" height="8.20" rx="3.00" fill="#000" fill-opacity="1.00"/>
<rect x="139.75" y="320.85" width="16.50" height="2.60" rx="1.30" fill="#000" fill-opacity="0.06"/>
<rect x="139.75" y="316.35" width="16.50" height="2.60" rx="1.30" fill="#000" fill-opacity="0.04"/>
<rect x="157.25" y="320.89" width="16.50" height="2.60" rx="1.30" fill="#000" fill-opacity="0.10"/>
<rect x="157.25" y="316.39" width="16.50" height="2.60" rx="1.30" fill="#000" fill-opacity="0.06"/>
<rect x="175.25" y="320.94" width="16.50" height="2.60" rx="1.30" fill="#000" fill-opacity="0.18"/>
<rect x="175.25" y="316.44" width="16.50" height="2.60" rx="1.30" fill="#000" fill-opacity="0.11"/>
<rect x="194.15" y="320.98" width="16.50" height="2.60" rx="1.30" fill="#000" fill-opacity="0.32"/>
<rect x="194.15" y="316.48" width="16.50" height="2.60" rx="1.30" fill="#000" fill-opacity="0.20"/>
<rect x="211.05" y="321.02" width="16.50" height="2.60" rx="1.30" fill="#000" fill-opacity="0.26"/>
<rect x="211.05" y="316.52" width="16.50" height="2.60" rx="1.30" fill="#000" fill-opacity="0.16"/>
<rect x="229.15" y="321.06" width="16.50" height="2.60" rx="1.30" fill="#000" fill-opacity="0.24"/>
<rect x="229.15" y="316.56" width="16.50" height="2.60" rx="1.30" fill="#000" fill-opacity="0.15"/>
<rect x="245.75" y="321.10" width="16.50" height="2.60" rx="1.30" fill="#000" fill-opacity="0.16"/>
<rect x="245.75" y="316.60" width="16.50" height="2.60" rx="1.30" fill="#000" fill-opacity="0.10"/>
<rect x="263.75" y="321.14" width="16.50" height="2.60" rx="1.30" fill="#000" fill-opacity="0.18"/>
<rect x="263.75" y="316.64" width="16.50" height="2.60" rx="1.30" fill="#000" fill-opacity="0.11"/>
<rect x="281.75" y="321.18" width="16.50" height="2.60" rx="1.30" fill="#000" fill-opacity="0.20"/>
<rect x="281.75" y="316.68" width="16.50" height="2.60" rx="1.30" fill="#000" fill-opacity="0.12"/>
<rect x="299.75" y="321.22" width="16.50" height="2.60" rx="1.30" fill="#000" fill-opacity="0.16"/>
<rect x="299.75" y="316.72" width="16.50" height="2.60" rx="1.30" fill="#000" fill-opacity="0.10"/>
<rect x="319.55" y="321.26" width="16.50" height="2.60" rx="1.30" fill="#000" fill-opacity="0.20"/>
<rect x="319.55" y="316.76" width="16.50" height="2.60" rx="1.30" fill="#000" fill-opacity="0.12"/>
<rect x="337.75" y="321.30" width="16.50" height="2.60" rx="1.30" fill="#000" fill-opacity="0.24"/>
<rect x="337.75" y="316.80" width="16.50" height="2.60" rx="1.30" fill="#000" fill-opacity="0.15"/>
<rect x="355.05" y="321.34" width="16.50" height="2.60" rx="1.30" fill="#000" fill-opacity="0.12"/>
<rect x="355.05" y="316.84" width="16.50" height="2.60" rx="1.30" fill="#000" fill-opacity="0.07"/>
<rect x="373.15" y="321.38" width="16.50" height="2.60" rx="1.30" fill="#000" fill-opacity="0.20"/>
<rect x="373.15" y="316.88" width="16.50" height="2.60" rx="1.30" fill="#000" fill-opacity="0.12"/>
<rect x="391.35" y="321.43" width="16.50" height="2.60" rx="1.30" fill="#000" fill-opacity="0.16"/>
<rect x="391.35" y="316.93" width="16.50" height="2.60" rx="1.30" fill="#000" fill-opacity="0.10"/>
<rect x="407.35" y="321.46" width="16.50" height="2.60" rx="1.30" fill="#000" fill-opacity="0.10"/>
<rect x="407.35" y="316.96" width="16.50" height="2.60" rx="1.30" fill="#000" fill-opacity="0.06"/>
<rect x="427.25" y="320.66" width="16.50" height="5.30" rx="2.65" fill="#000" fill-opacity="0.95"/>
<rect x="444.55" y="321.75" width="16.50" height="3.20" rx="1.60" fill="#000" fill-opacity="0.32"/>
<rect x="460.35" y="315.99" width="18.50" height="9.20" rx="3.00" fill="#000" fill-opacity="1.00"/>
<rect x="478.75" y="316.03" width="18.50" height="9.20" rx="3.00" fill="#000" fill-opacity="1.00"/>
<rect x="496.75" y="316.07" width="18.50" height="9.20" rx="3.00" fill="#000" fill-opacity="1.00"/>
</g>
<text x="76.6" y="349.40" font-size="11.6" text-anchor="end" fill="#111">ERK1/2</text>
<rect x="81.8" y="335.40" width="435.4" height="22.50" fill="#f2f2f2" stroke="#000" stroke-width="1.9"/>
<g filter="url(#bl)">
<rect x="85.90" y="341.84" width="16.00" height="2.4" rx="1.2" fill="#000" fill-opacity="0.18"/>
<rect x="85.90" y="345.54" width="16.00" height="3.60" rx="1.80" fill="#000" fill-opacity="0.97"/>
<rect x="105.70" y="341.60" width="16.00" height="2.4" rx="1.2" fill="#000" fill-opacity="0.18"/>
<rect x="105.70" y="345.30" width="16.00" height="3.60" rx="1.80" fill="#000" fill-opacity="0.97"/>
<rect x="123.70" y="341.39" width="16.00" height="2.4" rx="1.2" fill="#000" fill-opacity="0.18"/>
<rect x="123.70" y="345.09" width="16.00" height="3.60" rx="1.80" fill="#000" fill-opacity="0.97"/>
<rect x="140.30" y="341.20" width="16.00" height="2.4" rx="1.2" fill="#000" fill-opacity="0.18"/>
<rect x="140.30" y="344.90" width="16.00" height="3.60" rx="1.80" fill="#000" fill-opacity="0.97"/>
<rect x="156.50" y="341.01" width="16.00" height="2.4" rx="1.2" fill="#000" fill-opacity="0.18"/>
<rect x="156.50" y="344.71" width="16.00" height="3.60" rx="1.80" fill="#000" fill-opacity="0.97"/>
<rect x="173.60" y="340.80" width="16.00" height="2.4" rx="1.2" fill="#000" fill-opacity="0.18"/>
<rect x="173.60" y="344.50" width="16.00" height="3.60" rx="1.80" fill="#000" fill-opacity="0.97"/>
<rect x="191.00" y="340.60" width="16.00" height="2.4" rx="1.2" fill="#000" fill-opacity="0.18"/>
<rect x="191.00" y="344.30" width="16.00" height="3.60" rx="1.80" fill="#000" fill-opacity="0.97"/>
<rect x="208.20" y="340.40" width="16.00" height="2.4" rx="1.2" fill="#000" fill-opacity="0.18"/>
<rect x="208.20" y="344.10" width="16.00" height="3.60" rx="1.80" fill="#000" fill-opacity="0.97"/>
<rect x="226.40" y="340.18" width="16.00" height="2.4" rx="1.2" fill="#000" fill-opacity="0.18"/>
<rect x="226.40" y="343.88" width="16.00" height="3.60" rx="1.80" fill="#000" fill-opacity="0.97"/>
<rect x="244.10" y="339.99" width="16.00" height="2.4" rx="1.2" fill="#000" fill-opacity="0.18"/>
<rect x="244.10" y="343.69" width="16.00" height="3.60" rx="1.80" fill="#000" fill-opacity="0.97"/>
<rect x="261.40" y="339.94" width="16.00" height="2.4" rx="1.2" fill="#000" fill-opacity="0.18"/>
<rect x="261.40" y="343.64" width="16.00" height="3.60" rx="1.80" fill="#000" fill-opacity="0.97"/>
<rect x="278.70" y="339.88" width="16.00" height="2.4" rx="1.2" fill="#000" fill-opacity="0.18"/>
<rect x="278.70" y="343.58" width="16.00" height="3.60" rx="1.80" fill="#000" fill-opacity="0.97"/>
<rect x="296.90" y="339.82" width="16.00" height="2.4" rx="1.2" fill="#000" fill-opacity="0.18"/>
<rect x="296.90" y="343.52" width="16.00" height="3.60" rx="1.80" fill="#000" fill-opacity="0.97"/>
<rect x="315.00" y="339.76" width="16.00" height="2.4" rx="1.2" fill="#000" fill-opacity="0.18"/>
<rect x="315.00" y="343.46" width="16.00" height="3.60" rx="1.80" fill="#000" fill-opacity="0.97"/>
<rect x="332.80" y="339.70" width="16.00" height="2.4" rx="1.2" fill="#000" fill-opacity="0.18"/>
<rect x="332.80" y="343.40" width="16.00" height="3.60" rx="1.80" fill="#000" fill-opacity="0.97"/>
<rect x="351.80" y="339.63" width="16.00" height="2.4" rx="1.2" fill="#000" fill-opacity="0.18"/>
<rect x="351.80" y="343.33" width="16.00" height="3.60" rx="1.80" fill="#000" fill-opacity="0.97"/>
<rect x="370.00" y="339.57" width="16.00" height="2.4" rx="1.2" fill="#000" fill-opacity="0.18"/>
<rect x="370.00" y="343.27" width="16.00" height="3.60" rx="1.80" fill="#000" fill-opacity="0.97"/>
<rect x="388.20" y="339.51" width="16.00" height="2.4" rx="1.2" fill="#000" fill-opacity="0.18"/>
<rect x="388.20" y="343.21" width="16.00" height="3.60" rx="1.80" fill="#000" fill-opacity="0.97"/>
<rect x="405.80" y="339.67" width="16.00" height="2.4" rx="1.2" fill="#000" fill-opacity="0.18"/>
<rect x="405.80" y="343.37" width="16.00" height="3.60" rx="1.80" fill="#000" fill-opacity="0.97"/>
<rect x="424.00" y="339.90" width="16.00" height="2.4" rx="1.2" fill="#000" fill-opacity="0.18"/>
<rect x="424.00" y="343.60" width="16.00" height="3.60" rx="1.80" fill="#000" fill-opacity="0.97"/>
<rect x="442.20" y="340.13" width="16.00" height="2.4" rx="1.2" fill="#000" fill-opacity="0.18"/>
<rect x="442.20" y="343.83" width="16.00" height="3.60" rx="1.80" fill="#000" fill-opacity="0.97"/>
<rect x="461.20" y="340.37" width="16.00" height="2.4" rx="1.2" fill="#000" fill-opacity="0.18"/>
<rect x="461.20" y="344.06" width="16.00" height="3.60" rx="1.80" fill="#000" fill-opacity="0.97"/>
<rect x="478.50" y="340.58" width="16.00" height="2.4" rx="1.2" fill="#000" fill-opacity="0.18"/>
<rect x="478.50" y="344.28" width="16.00" height="3.60" rx="1.80" fill="#000" fill-opacity="0.97"/>
<rect x="496.00" y="340.80" width="16.00" height="2.4" rx="1.2" fill="#000" fill-opacity="0.18"/>
<rect x="496.00" y="344.50" width="16.00" height="3.60" rx="1.80" fill="#000" fill-opacity="0.97"/>
</g>
<text x="76.6" y="375.60" font-size="11.6" text-anchor="end" fill="#111">P-AKT</text>
<rect x="81.8" y="362.00" width="435.4" height="22.30" fill="#f1f1f1" stroke="#000" stroke-width="1.9"/>
<g filter="url(#bl)">
<rect x="84.70" y="369.59" width="18.00" height="7.30" rx="3.00" fill="#000" fill-opacity="1.00"/>
<rect x="103.90" y="369.23" width="18.00" height="7.30" rx="3.00" fill="#000" fill-opacity="1.00"/>
<rect x="121.40" y="368.91" width="18.00" height="7.30" rx="3.00" fill="#000" fill-opacity="1.00"/>
<rect x="139.75" y="370.33" width="16.50" height="3.80" rx="1.90" fill="#000" fill-opacity="0.42"/>
<rect x="157.35" y="369.69" width="16.50" height="4.47" rx="2.24" fill="#000" fill-opacity="0.89"/>
<rect x="175.45" y="369.74" width="16.50" height="3.95" rx="1.98" fill="#000" fill-opacity="0.53"/>
<rect x="193.85" y="369.51" width="16.50" height="3.95" rx="1.98" fill="#000" fill-opacity="0.53"/>
<rect x="212.45" y="369.40" width="16.50" height="3.73" rx="1.86" fill="#000" fill-opacity="0.37"/>
<rect x="231.15" y="368.95" width="16.50" height="4.18" rx="2.09" fill="#000" fill-opacity="0.68"/>
<rect x="249.05" y="368.77" width="16.50" height="4.10" rx="2.05" fill="#000" fill-opacity="0.63"/>
<rect x="267.35" y="368.70" width="16.50" height="3.80" rx="1.90" fill="#000" fill-opacity="0.42"/>
<rect x="286.55" y="368.28" width="16.50" height="4.18" rx="2.09" fill="#000" fill-opacity="0.68"/>
<rect x="303.85" y="368.58" width="16.50" height="3.73" rx="1.86" fill="#000" fill-opacity="0.37"/>
<rect x="322.75" y="368.66" width="16.50" height="4.03" rx="2.01" fill="#000" fill-opacity="0.58"/>
<rect x="340.05" y="369.02" width="16.50" height="3.73" rx="1.86" fill="#000" fill-opacity="0.37"/>
<rect x="357.35" y="369.26" width="16.50" height="3.65" rx="1.83" fill="#000" fill-opacity="0.32"/>
<rect x="375.65" y="369.41" width="16.50" height="3.80" rx="1.90" fill="#000" fill-opacity="0.42"/>
<rect x="392.95" y="369.58" width="16.50" height="3.88" rx="1.94" fill="#000" fill-opacity="0.47"/>
<rect x="409.55" y="369.63" width="16.50" height="4.33" rx="2.16" fill="#000" fill-opacity="0.79"/>
<rect x="426.80" y="368.45" width="18.00" height="7.30" rx="3.00" fill="#000" fill-opacity="1.00"/>
<rect x="444.25" y="370.36" width="16.50" height="4.03" rx="2.01" fill="#000" fill-opacity="0.58"/>
<rect x="461.00" y="369.02" width="18.00" height="7.30" rx="3.00" fill="#000" fill-opacity="1.00"/>
<rect x="479.00" y="369.32" width="18.00" height="7.30" rx="3.00" fill="#000" fill-opacity="1.00"/>
<rect x="498.00" y="369.63" width="18.00" height="7.30" rx="3.00" fill="#000" fill-opacity="1.00"/>
</g>
<text x="76.6" y="402.00" font-size="11.6" text-anchor="end" fill="#111">AKT</text>
<rect x="81.8" y="388.10" width="435.4" height="21.70" fill="#f0f0f0" stroke="#000" stroke-width="1.9"/>
<g filter="url(#bl)">
<rect x="84.55" y="396.28" width="16.50" height="5.17" rx="2.58" fill="#000" fill-opacity="0.95"/>
<rect x="102.95" y="396.81" width="16.50" height="5.17" rx="2.58" fill="#000" fill-opacity="0.95"/>
<rect x="120.75" y="397.50" width="16.50" height="4.81" rx="2.40" fill="#000" fill-opacity="0.65"/>
<rect x="137.95" y="397.81" width="16.50" height="5.17" rx="2.58" fill="#000" fill-opacity="0.95"/>
<rect x="154.05" y="397.79" width="16.50" height="5.17" rx="2.58" fill="#000" fill-opacity="0.95"/>
<rect x="171.45" y="397.63" width="16.50" height="5.14" rx="2.57" fill="#000" fill-opacity="0.92"/>
<rect x="188.25" y="397.45" width="16.50" height="5.17" rx="2.58" fill="#000" fill-opacity="0.95"/>
<rect x="205.65" y="396.89" width="16.50" height="5.11" rx="2.55" fill="#000" fill-opacity="0.89"/>
<rect x="223.85" y="396.14" width="16.50" height="5.14" rx="2.57" fill="#000" fill-opacity="0.92"/>
<rect x="240.85" y="395.45" width="16.50" height="5.17" rx="2.58" fill="#000" fill-opacity="0.95"/>
<rect x="258.25" y="395.53" width="16.50" height="5.17" rx="2.58" fill="#000" fill-opacity="0.95"/>
<rect x="276.45" y="395.65" width="16.50" height="5.17" rx="2.58" fill="#000" fill-opacity="0.95"/>
<rect x="294.75" y="395.76" width="16.50" height="5.20" rx="2.60" fill="#000" fill-opacity="0.97"/>
<rect x="312.05" y="395.95" width="16.50" height="5.04" rx="2.52" fill="#000" fill-opacity="0.84"/>
<rect x="330.05" y="396.10" width="16.50" height="4.97" rx="2.49" fill="#000" fill-opacity="0.79"/>
<rect x="348.25" y="396.12" width="16.50" height="5.17" rx="2.58" fill="#000" fill-opacity="0.95"/>
<rect x="366.55" y="396.25" width="16.50" height="5.17" rx="2.58" fill="#000" fill-opacity="0.95"/>
<rect x="384.75" y="396.37" width="16.50" height="5.17" rx="2.58" fill="#000" fill-opacity="0.95"/>
<rect x="403.25" y="396.69" width="16.50" height="5.11" rx="2.55" fill="#000" fill-opacity="0.89"/>
<rect x="421.75" y="397.07" width="16.50" height="5.11" rx="2.55" fill="#000" fill-opacity="0.89"/>
<rect x="440.25" y="397.46" width="16.50" height="5.11" rx="2.55" fill="#000" fill-opacity="0.89"/>
<rect x="459.75" y="397.86" width="16.50" height="5.11" rx="2.55" fill="#000" fill-opacity="0.89"/>
<rect x="478.25" y="398.25" width="16.50" height="5.11" rx="2.55" fill="#000" fill-opacity="0.89"/>
<rect x="497.95" y="398.64" width="16.50" height="5.14" rx="2.57" fill="#000" fill-opacity="0.92"/>
</g>
<text x="76.6" y="429.50" font-size="11.6" text-anchor="end" fill="#111">GAPDH</text>
<rect x="81.8" y="413.90" width="435.4" height="22.70" fill="#f3f3f3" stroke="#000" stroke-width="1.9"/>
<g filter="url(#bl)">
<rect x="84.55" y="423.23" width="19.50" height="4.60" rx="2.30" fill="#000" fill-opacity="1.00"/>
<rect x="104.95" y="423.14" width="19.50" height="4.60" rx="2.30" fill="#000" fill-opacity="1.00"/>
<rect x="122.25" y="423.06" width="19.50" height="4.60" rx="2.30" fill="#000" fill-opacity="1.00"/>
<rect x="140.95" y="422.97" width="19.50" height="4.60" rx="2.30" fill="#000" fill-opacity="1.00"/>
<rect x="157.55" y="422.89" width="19.50" height="4.60" rx="2.30" fill="#000" fill-opacity="1.00"/>
<rect x="175.85" y="422.80" width="19.50" height="4.60" rx="2.30" fill="#000" fill-opacity="1.00"/>
<rect x="194.05" y="422.72" width="19.50" height="4.60" rx="2.30" fill="#000" fill-opacity="1.00"/>
<rect x="211.45" y="422.64" width="19.50" height="4.60" rx="2.30" fill="#000" fill-opacity="0.98"/>
<rect x="228.75" y="422.55" width="19.50" height="4.60" rx="2.30" fill="#000" fill-opacity="0.97"/>
<rect x="247.55" y="422.52" width="19.50" height="4.60" rx="2.30" fill="#000" fill-opacity="0.97"/>
<rect x="264.95" y="422.55" width="19.50" height="4.60" rx="2.30" fill="#000" fill-opacity="0.97"/>
<rect x="283.15" y="422.60" width="19.50" height="4.60" rx="2.30" fill="#000" fill-opacity="0.95"/>
<rect x="299.65" y="422.63" width="19.50" height="4.60" rx="2.30" fill="#000" fill-opacity="0.92"/>
<rect x="316.05" y="422.67" width="19.50" height="4.60" rx="2.30" fill="#000" fill-opacity="0.90"/>
<rect x="334.85" y="422.71" width="19.50" height="4.60" rx="2.30" fill="#000" fill-opacity="0.88"/>
<rect x="352.25" y="422.75" width="19.50" height="4.60" rx="2.30" fill="#000" fill-opacity="0.89"/>
<rect x="369.55" y="422.79" width="19.50" height="4.60" rx="2.30" fill="#000" fill-opacity="0.88"/>
<rect x="386.95" y="422.83" width="19.50" height="4.60" rx="2.30" fill="#000" fill-opacity="0.89"/>
<rect x="405.25" y="422.87" width="19.50" height="4.60" rx="2.30" fill="#000" fill-opacity="0.86"/>
<rect x="422.55" y="422.91" width="19.50" height="4.60" rx="2.30" fill="#000" fill-opacity="0.88"/>
<rect x="439.85" y="422.94" width="19.50" height="4.60" rx="2.30" fill="#000" fill-opacity="0.86"/>
<rect x="457.15" y="422.98" width="19.50" height="4.60" rx="2.30" fill="#000" fill-opacity="0.71"/>
<rect x="476.75" y="423.03" width="19.50" height="4.60" rx="2.30" fill="#000" fill-opacity="0.65"/>
<rect x="496.45" y="423.07" width="19.50" height="4.60" rx="2.30" fill="#000" fill-opacity="0.55"/>
</g>
</svg></body></html>
